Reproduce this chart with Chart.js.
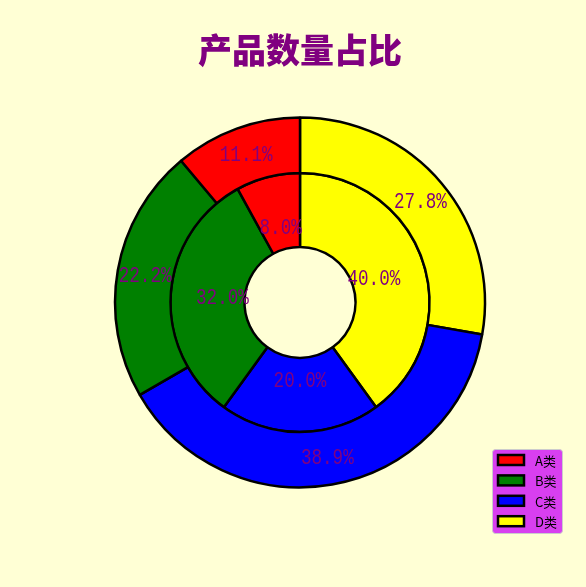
<!DOCTYPE html>
<html>
<head>
<meta charset="utf-8">
<script src="https://cdn.jsdelivr.net/npm/chart.js@4.4.1/dist/chart.umd.min.js"></script>
<style>
  html, body { margin: 0; padding: 0; background: #ffffd5; }
  canvas { display: block; }
</style>
</head>
<body>
<canvas id="c" width="586" height="587"></canvas>
<script>
const categories = ['A类', 'B类', 'C类', 'D类'];
const outerValues = [2, 4, 7, 5];      // 11.1%, 22.2%, 38.9%, 27.8%
const innerValues = [2, 8, 5, 10];     // 8.0%, 32.0%, 20.0%, 40.0%
const sliceColors = ['#ff0000', '#008000', '#0000ff', '#ffff00'];
const chartTitle = '产品数量占比';

// Chart.js draws clockwise; reference goes counter-clockwise from top, so reverse
const rev = a => a.slice().reverse();

const bgPlugin = {
  id: 'bg',
  beforeDraw(chart) {
    const ctx = chart.ctx;
    ctx.save();
    ctx.fillStyle = '#ffffd5';
    ctx.fillRect(0, 0, chart.width, chart.height);
    ctx.restore();
  }
};

const pctPlugin = {
  id: 'pct',
  afterDatasetsDraw(chart) {
    const ctx = chart.ctx;
    const factors = [0.85, 0.6];
    chart.data.datasets.forEach((ds, di) => {
      const meta = chart.getDatasetMeta(di);
      const total = ds.data.reduce((a, b) => a + b, 0);
      meta.data.forEach((arc, i) => {
        const p = arc.getProps(['x', 'y', 'startAngle', 'endAngle', 'outerRadius'], true);
        const mid = (p.startAngle + p.endAngle) / 2;
        const r = p.outerRadius * factors[di];
        const x = p.x + Math.cos(mid) * r;
        const y = p.y + Math.sin(mid) * r + 1;
        const txt = (ds.data[i] / total * 100).toFixed(1) + '%';
        ctx.save();
        ctx.translate(x, y);
        ctx.scale(0.8, 1);
        ctx.font = '22px "Liberation Mono"';
        ctx.fillStyle = '#800080';
        ctx.textAlign = 'center';
        ctx.textBaseline = 'middle';
        ctx.fillText(txt, 0, 0);
        ctx.restore();
      });
    });
  }
};

const legendPlugin = {
  id: 'customLegend',
  afterDraw(chart) {
    const ctx = chart.ctx;
    const bx = 492, by = 449, bw = 70, bh = 84;
    ctx.save();
    ctx.beginPath();
    ctx.roundRect(bx + 0.5, by + 0.5, bw, bh, 3);
    ctx.fillStyle = '#d83ff0';
    ctx.fill();
    ctx.strokeStyle = '#cccccc';
    ctx.lineWidth = 1;
    ctx.stroke();
    categories.forEach((cat, i) => {
      const cy = 460 + i * 20.4;
      ctx.fillStyle = sliceColors[i];
      ctx.fillRect(498, cy - 5, 26, 10);
      ctx.strokeStyle = '#000';
      ctx.lineWidth = 2.5;
      ctx.strokeRect(498, cy - 5, 26, 10);
      ctx.fillStyle = '#000';
      ctx.font = '13px "Noto Sans CJK SC"';
      ctx.textAlign = 'left';
      ctx.textBaseline = 'middle';
      ctx.fillText(cat, 535, cy + 1);
    });
    ctx.restore();
  }
};

new Chart(document.getElementById('c'), {
  type: 'doughnut',
  data: {
    labels: rev(categories),
    datasets: [
      {
        data: rev(outerValues),
        backgroundColor: rev(sliceColors),
        borderColor: '#000',
        borderWidth: 2.5,
        weight: 0.3
      },
      {
        data: rev(innerValues),
        backgroundColor: rev(sliceColors),
        borderColor: '#000',
        borderWidth: 2.5,
        weight: 0.4
      }
    ]
  },
  options: {
    responsive: false,
    animation: false,
    devicePixelRatio: 1,
    cutout: '30%',
    radius: 185,
    layout: { padding: { left: 14, right: 0, top: 0, bottom: 63 } },
    plugins: {
      legend: { display: false },
      tooltip: { enabled: false },
      title: {
        display: true,
        text: chartTitle,
        color: '#800080',
        font: { family: '"Noto Sans CJK SC"', size: 34, weight: 900, lineHeight: 1.2 },
        padding: { top: 30, bottom: 10 }
      }
    }
  },
  plugins: [bgPlugin, pctPlugin, legendPlugin]
});
</script>
</body>
</html>
